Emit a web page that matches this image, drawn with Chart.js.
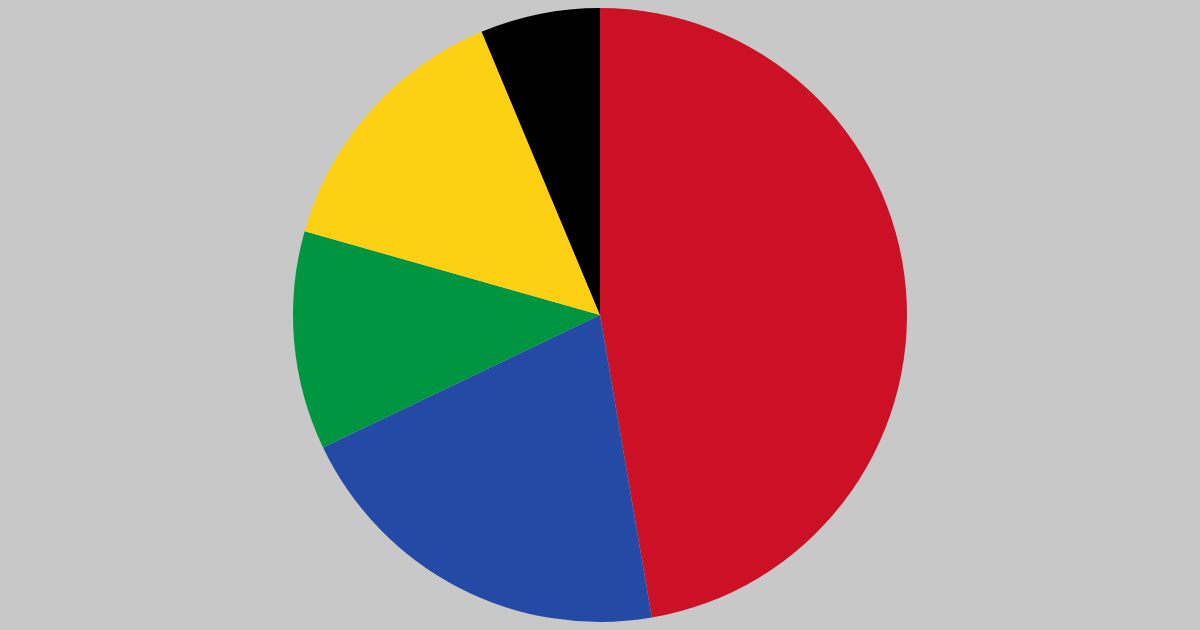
<!DOCTYPE html>
<html>
<head>
<meta charset="utf-8">
<script src="https://cdn.jsdelivr.net/npm/chart.js@4"></script>
<style>
  html, body { margin: 0; padding: 0; background: #c8c8c8; }
  #wrap { width: 1200px; height: 630px; }
</style>
</head>
<body>
<div id="wrap"><canvas id="pieChart" width="1200" height="630"></canvas></div>
<script>
const labels = ['Red', 'Blue', 'Green', 'Yellow', 'Black'];
const shares = [47.3, 20.6, 11.5, 14.3, 6.3];
const sliceColors = ['#cc1126', '#244aa5', '#009641', '#fed014', '#000000'];

const ctx = document.getElementById('pieChart').getContext('2d');
const pieChart = new Chart(ctx, {
    type: 'pie',
    data: {
        labels: labels,
        datasets: [{
            data: shares,
            backgroundColor: sliceColors,
            borderWidth: 0,
        }]
    },
    options: {
        responsive: false,
        animation: false,
        layout: { padding: 8 },
        plugins: {
            legend: { display: false },
            tooltip: { enabled: false }
        }
    }
});
</script>
</body>
</html>
